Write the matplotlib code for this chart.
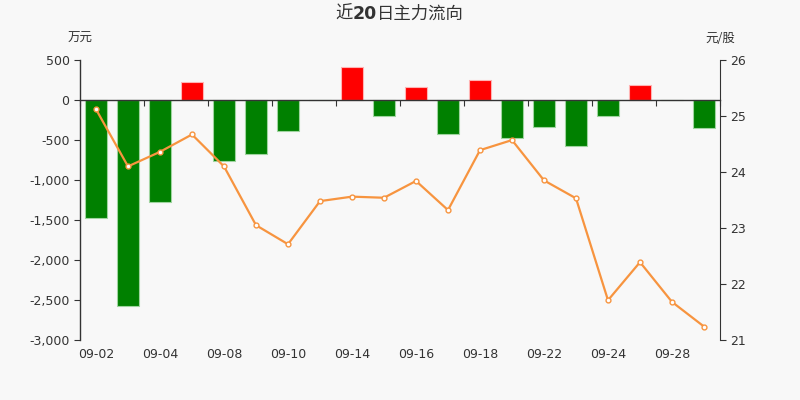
import numpy as np
import matplotlib
matplotlib.use("Agg")
import matplotlib.pyplot as plt
from matplotlib.ticker import FuncFormatter

plt.rcParams['font.family'] = ['DejaVu Sans', 'Noto Sans CJK SC']

# 数据
dates = ["09-02", "09-03", "09-04", "09-07", "09-08", "09-09", "09-10", "09-11",
         "09-14", "09-15", "09-16", "09-17", "09-18", "09-21", "09-22", "09-23",
         "09-24", "09-25", "09-28", "09-29"]
net_flow = [-1475, -2575, -1275, 220, -758, -679, -383, -5,
            408, -204, 162, -429, 246, -471, -341, -575,
            -196, 183, -3, -350]
price = [25.12, 24.10, 24.36, 24.67, 24.10, 23.05, 22.71, 23.48,
         23.56, 23.54, 23.84, 23.32, 24.39, 24.57, 23.85, 23.53,
         21.71, 22.39, 21.68, 21.24]

bg = '#f8f8f8'
txt = '#333333'

fig = plt.figure(figsize=(8, 4), dpi=100, facecolor=bg)
ax = fig.add_axes([0.1, 0.15, 0.8, 0.7], facecolor=bg)

x = np.arange(len(dates))
colors = ['#ff0000' if v > 0 else '#008000' for v in net_flow]
edges = ['#ffb3b3' if v > 0 else '#9fd49f' for v in net_flow]
ax.bar(x, net_flow, width=0.69, color=colors, edgecolor=edges, linewidth=0.8, zorder=2)

ax.set_xlim(-0.5, len(dates) - 0.5)
ax.set_ylim(-3000, 500)
ax.set_yticks([500, 0, -500, -1000, -1500, -2000, -2500, -3000])
ax.yaxis.set_major_formatter(FuncFormatter(lambda v, p: f"{int(v):,}"))

# x轴放在0位置，刻度在柱子之间
ax.spines['bottom'].set_position(('data', 0))
ax.spines['top'].set_visible(False)
ax.spines['right'].set_visible(False)
for s in ['left', 'bottom']:
    ax.spines[s].set_color(txt)
    ax.spines[s].set_linewidth(1)
ax.set_xticks(np.arange(-0.5, len(dates), 2))
ax.tick_params(axis='x', length=4, color=txt, labelbottom=False)
ax.tick_params(axis='y', length=4, color=txt, labelcolor=txt, labelsize=9)

# 底部日期标签
sec = ax.secondary_xaxis('bottom')
sec.set_xticks(x[::2])
sec.set_xticklabels(dates[::2])
sec.tick_params(length=0, labelcolor=txt, labelsize=9, pad=6)
sec.spines['bottom'].set_visible(False)

# 股价
ax2 = ax.twinx()
ax2.plot(x, price, color='#f7943f', linewidth=1.6, marker='o', markersize=3.5,
         markerfacecolor='white', markeredgecolor='#f7943f', markeredgewidth=1, zorder=3)
ax2.set_ylim(21, 26)
ax2.set_yticks([21, 22, 23, 24, 25, 26])
for s in ['top', 'left', 'bottom']:
    ax2.spines[s].set_visible(False)
ax2.spines['right'].set_color(txt)
ax2.tick_params(axis='y', length=4, color=txt, labelcolor=txt, labelsize=9)

# 标题：数字加粗，分段拼接
cjk = ['Noto Sans CJK SC', 'DejaVu Sans']
parts = [("近", cjk, 'normal'), ("20", ['DejaVu Sans'], 'bold'), ("日主力流向", cjk, 'normal')]
renderer = fig.canvas.get_renderer()
items = []
total = 0
for s, fam, w in parts:
    t = fig.text(0, 0.965, s, ha='left', va='center', fontsize=12.5, color=txt,
                 family=fam, fontweight=w)
    wpx = t.get_window_extent(renderer).width
    items.append((t, wpx))
    total += wpx
xpos = 400 - total / 2
for t, wpx in items:
    t.set_x(xpos / 800)
    xpos += wpx

fig.text(0.1, 0.905, "万元", ha='center', va='center', fontsize=9, color=txt,
         family=cjk)
fig.text(0.9, 0.905, "元/股", ha='center', va='center', fontsize=9, color=txt,
         family=cjk)

fig.savefig("out.png", dpi=100, facecolor=bg)
